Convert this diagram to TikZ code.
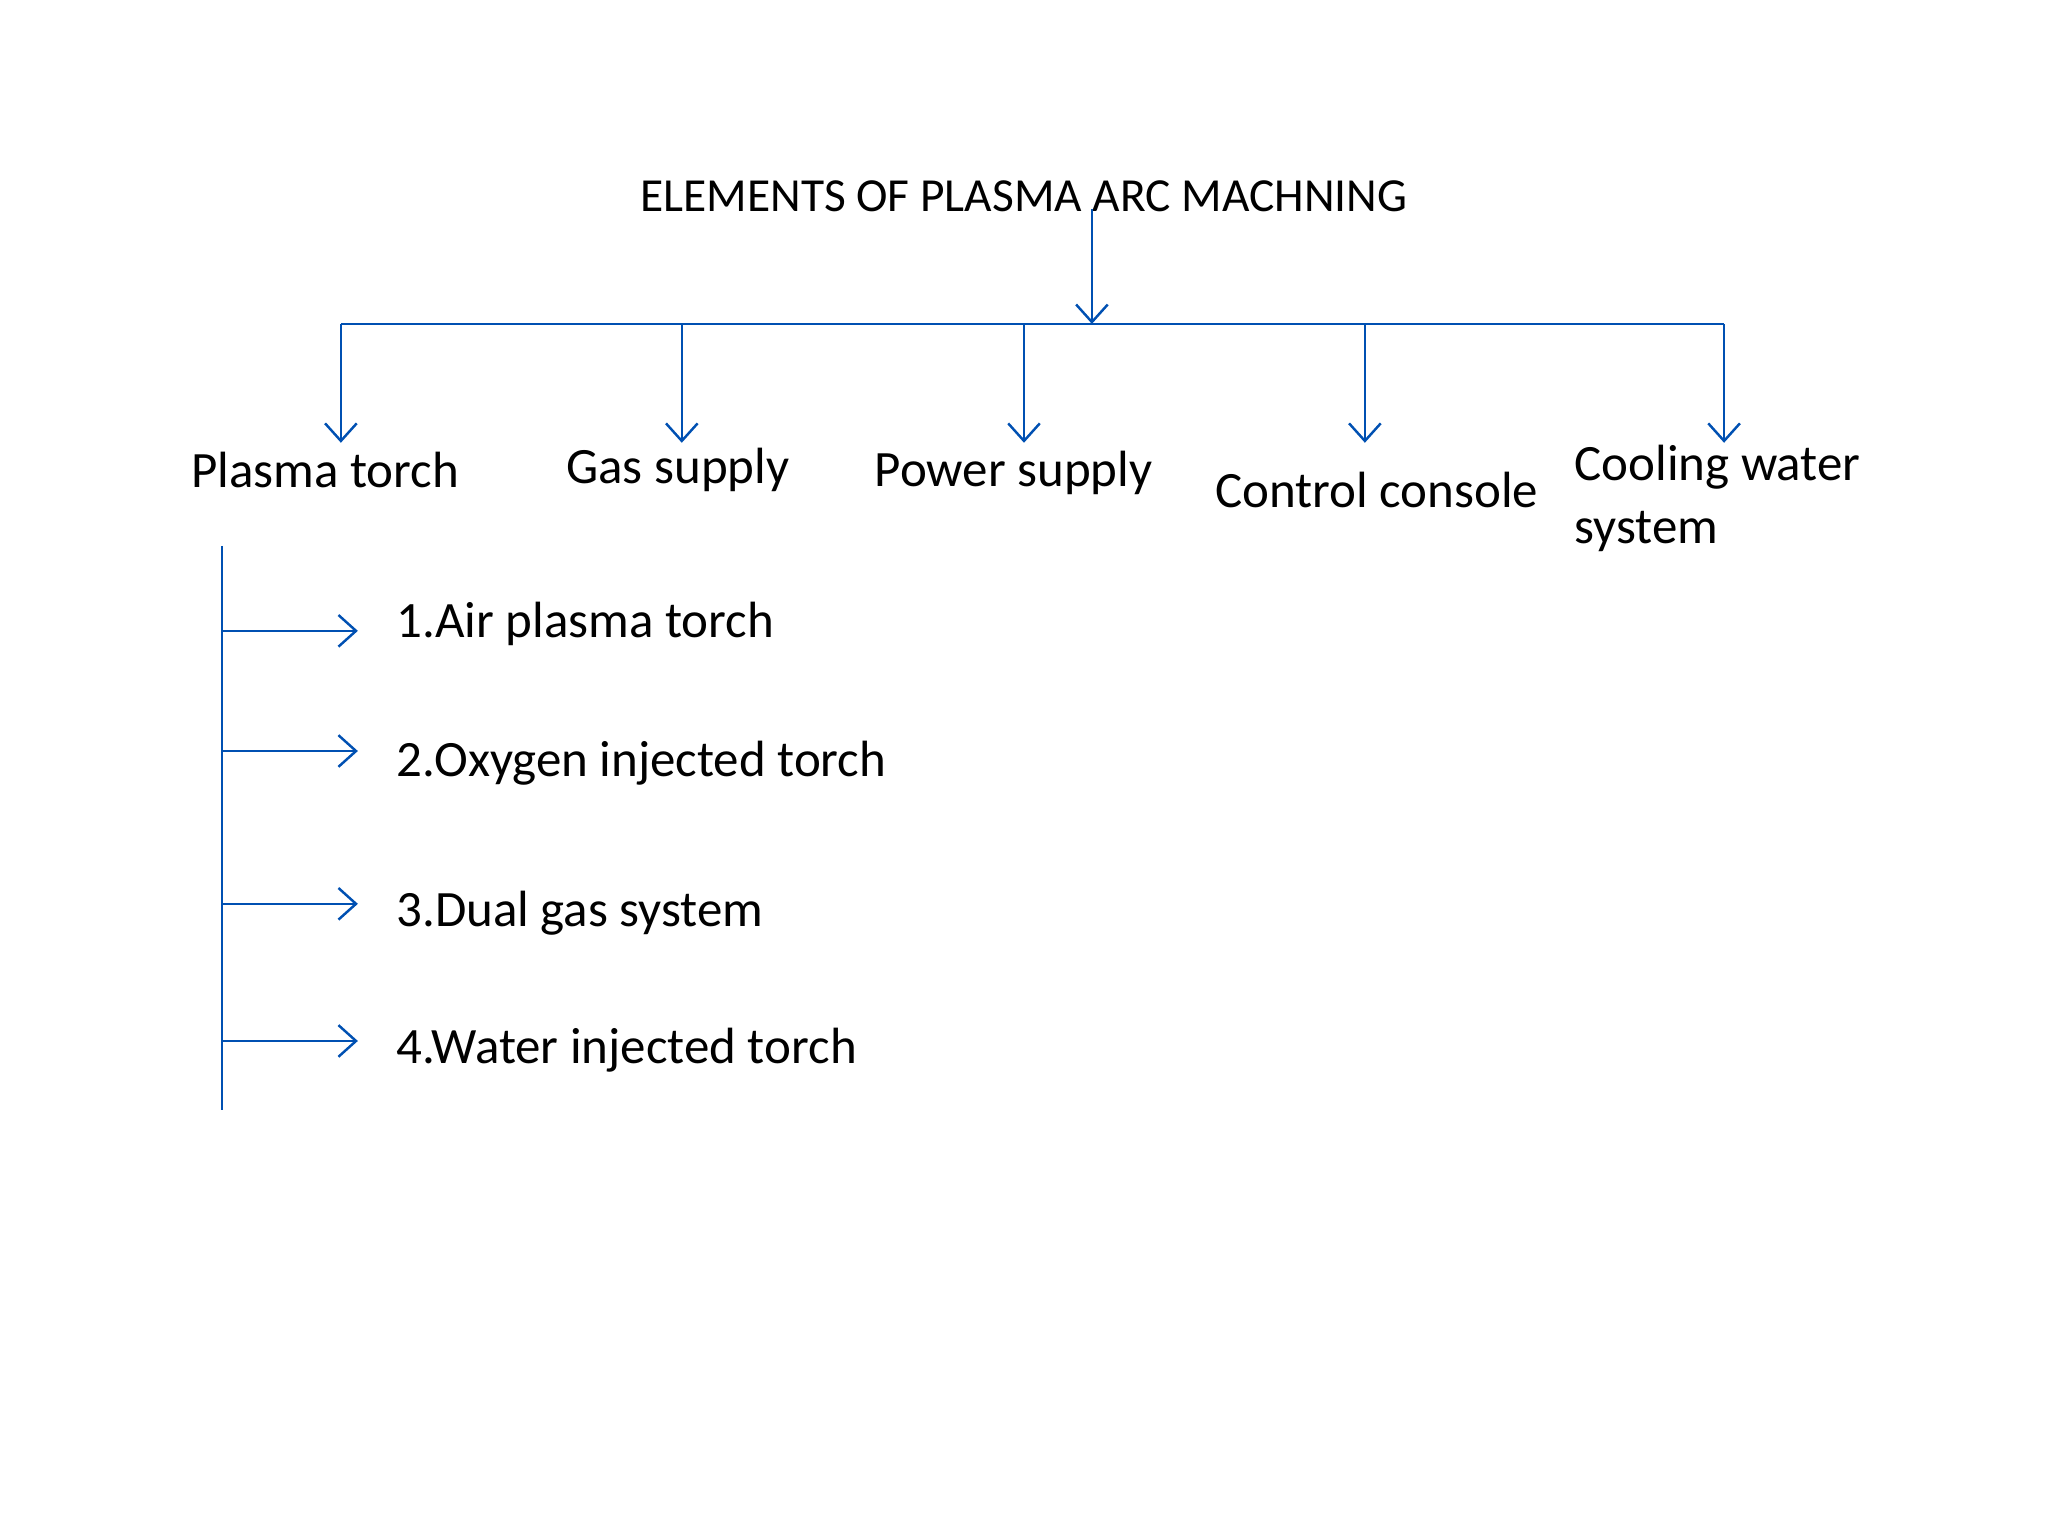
\documentclass[tikz,border=0pt]{standalone}
\usepackage{fontspec}
\setmainfont{Carlito}
\usetikzlibrary{arrows.meta}
\begin{document}
\begin{tikzpicture}[x=0.01306cm,y=-0.01306cm,
    line/.style={draw=blue!55!cyan!70!black, line width=0.7pt},
    arr/.style={line, -{Straight Barb[length=5pt,width=9pt]}},
    lbl/.style={font=\fontsize{14.5}{18}\selectfont, inner sep=0pt}]
    \useasboundingbox (0,0) rectangle (1568,1176);

    % Title and main branch
    \node[lbl, font=\fontsize{13.5}{16}\selectfont] (title) at (784,150) {ELEMENTS OF PLASMA ARC MACHNING};
    \coordinate (top) at (836,160);
    \coordinate (hub) at (836,248);
    \draw[arr] (top) -- (hub);

    \coordinate (hl) at (261,248);
    \coordinate (hr) at (1320,248);
    \draw[line] (hl) -- (hr);

    % Elements
    \foreach \x/\name in {261/a,522/b,784/c,1045/d,1320/e} {
      \coordinate (s\name) at (\x,248);
      \coordinate (t\name) at (\x,339);
      \draw[arr] (s\name) -- (t\name);
    }
    \node[lbl] (torch) at (249,360) {Plasma torch};
    \node[lbl] (gas) at (519,360) {Gas supply};
    \node[lbl] (power) at (776,362) {Power supply};
    \node[lbl] (control) at (1054,375) {Control console};
    \node[lbl, anchor=north west, align=left] (cooling) at (1205,340) {Cooling water\\system};

    % Torch types
    \coordinate (vt) at (170,418);
    \coordinate (vb) at (170,850);
    \draw[line] (vt) -- (vb);
    \foreach \y/\ty/\n/\txt in {483/478/1/{1.Air plasma torch},575/584/2/{2.Oxygen injected torch},692/699/3/{3.Dual gas system},797/804/4/{4.Water injected torch}} {
      \coordinate (p\n) at (170,\y);
      \coordinate (q\n) at (274,\y);
      \draw[arr] (p\n) -- (q\n);
      \node[lbl, anchor=west] (type\n) at (303,\ty) {\txt};
    }
\end{tikzpicture}
\end{document}
